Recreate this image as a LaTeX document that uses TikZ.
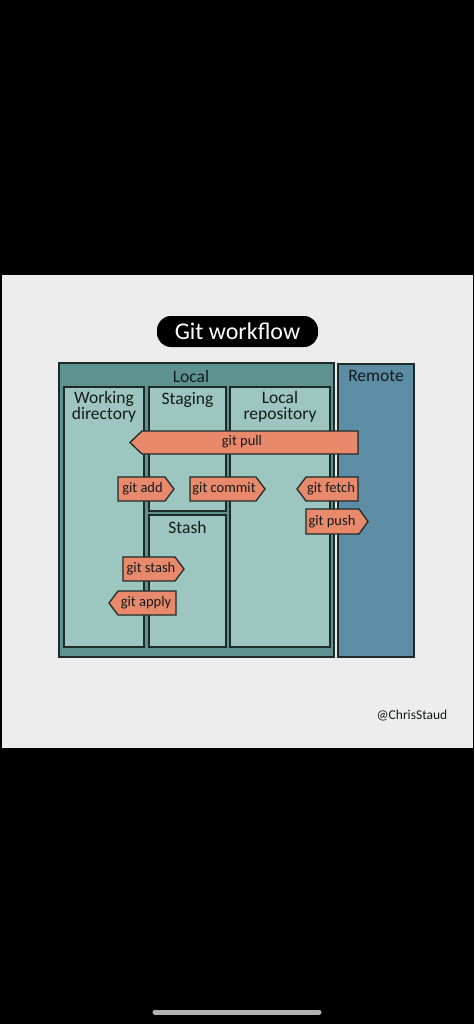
\documentclass[tikz,border=0pt]{standalone}
\usepackage{fontspec}
\setmainfont{Carlito}
\definecolor{paper}{HTML}{EDEDED}
\definecolor{edge}{HTML}{1E2A2A}
\definecolor{ink}{HTML}{151A1A}
\definecolor{localfill}{HTML}{5E9290}
\definecolor{innerfill}{HTML}{9CC6BF}
\definecolor{remotefill}{HTML}{5C8DA5}
\definecolor{cmdfill}{HTML}{E8896B}
\begin{document}
\begin{tikzpicture}[x=1pt,y=-1pt,
    box/.style={draw=edge, line width=1.5pt},
    area/.style={text=ink, font=\fontsize{17.5}{15.5}\selectfont, align=center, inner sep=0pt},
    cmd/.style={draw=edge, line width=1.3pt, fill=cmdfill},
    cmdtext/.style={text=ink, font=\fontsize{14.5}{14}\selectfont, inner sep=0pt}]
	\useasboundingbox (0,0) rectangle (474,1024);
	\fill[black] (0,0) rectangle (474,1024);
	\fill[paper] (2,275) rectangle (473,748);
	\fill[black, rounded corners=14pt] (157,316) rectangle (318,347);
	\node[text=white, font=\fontsize{24}{24}\selectfont, inner sep=0pt] (title) at (237.5,331) {Git workflow};
	\draw[box, fill=localfill] (59,363) rectangle (334,657);
	\node[area] (local) at (191,376) {Local};
	\draw[box, fill=remotefill] (338,364) rectangle (414,657);
	\node[area] (remote) at (376,376) {Remote};
	\draw[box, fill=innerfill] (64,387) rectangle (144,647);
	\node[area] (workdir) at (104,407) {Working\\directory};
	\draw[box, fill=innerfill] (149,387) rectangle (226,511);
	\node[area] (staging) at (187.5,400) {Staging};
	\draw[box, fill=innerfill] (149,515) rectangle (226,647);
	\node[area] (stash) at (187.5,527) {Stash};
	\draw[box, fill=innerfill] (230,387) rectangle (330,647);
	\node[area] (localrepo) at (280,407) {Local\\repository};
	\draw[cmd] (130,442.5) -- (142,431) -- (358,431) -- (358,454) -- (142,454) -- cycle;
	\node[cmdtext] (pull) at (242,442) {git pull};
	\draw[cmd] (118,477) -- (165,477) -- (174,489) -- (165,501) -- (118,501) -- cycle;
	\node[cmdtext] (add) at (142.5,489) {git add};
	\draw[cmd] (190,477) -- (256,477) -- (265,489) -- (256,501) -- (190,501) -- cycle;
	\node[cmdtext] (commit) at (224,489) {git commit};
	\draw[cmd] (297,489) -- (306,477) -- (358,477) -- (358,501) -- (306,501) -- cycle;
	\node[cmdtext] (fetch) at (331,489) {git fetch};
	\draw[cmd] (306,509) -- (359,509) -- (368,521.5) -- (359,534) -- (306,534) -- cycle;
	\node[cmdtext] (push) at (332,521.5) {git push};
	\draw[cmd] (123,557) -- (175,557) -- (184,569) -- (175,581) -- (123,581) -- cycle;
	\node[cmdtext] (stashcmd) at (151,569) {git stash};
	\draw[cmd] (109,603) -- (118,591) -- (176,591) -- (176,615) -- (118,615) -- cycle;
	\node[cmdtext] (apply) at (146,603) {git apply};
	\node[text=ink, font=\fontsize{13.5}{13.5}\selectfont, inner sep=0pt] (credit) at (412,716) {@ChrisStaud};
	\draw[black!30, line width=5pt, line cap=round] (155,1012) -- (319,1012);
\end{tikzpicture}
\end{document}
